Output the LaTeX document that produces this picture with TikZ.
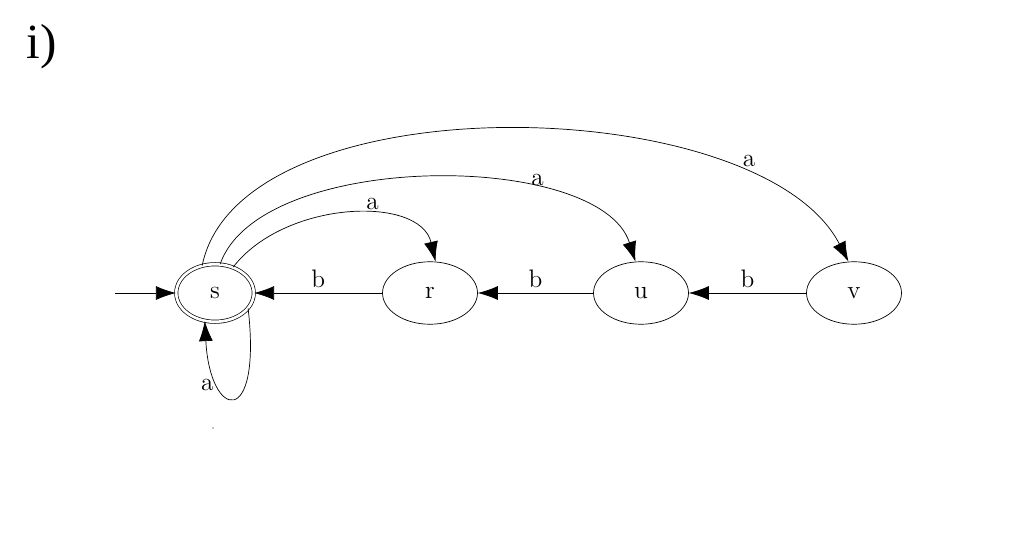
\documentclass[tikz,border=0pt]{standalone}
\usepackage{fontspec}
\newfontfamily\timesfont{Liberation Serif}
\usetikzlibrary{arrows.meta,shapes.geometric}
\tikzset{
  state/.style={ellipse,draw,minimum width=1.9cm,minimum height=1.25cm,font=\Large},
  accept/.style={state,double,double distance=1.5pt,minimum width=1.55cm,minimum height=1.15cm},
  edge/.style={draw,-{Latex[length=0.4cm,width=0.28cm]},thin},
  lbl/.style={font=\Large,inner sep=3pt}
}
\begin{document}
\begin{tikzpicture}[x=0.02cm,y=-0.02cm]
  \useasboundingbox (0,0) rectangle (1023,550);
  \node[font=\timesfont\fontsize{28}{30}\selectfont] (title) at (42,47) {i)};
  \node[accept] (s) at (215,293) {s};
  \node[state] (r) at (430,293) {r};
  \node[state] (u) at (641,293) {u};
  \node[state] (v) at (854,293) {v};
  \coordinate (start) at (115,293);
  \draw[edge] (start) -- (s);
  \draw[edge] (r) -- node[lbl,above] {b} (s);
  \draw[edge] (u) -- node[lbl,above] {b} (r);
  \draw[edge] (v) -- node[lbl,above] {b} (u);
  % arcs over the top
  \draw[edge] (s.55) .. controls (285,200) and (420,195) .. node[lbl,pos=.6,above] {a} (r.80);
  \draw[edge] (s.80) .. controls (260,150) and (600,150) .. node[lbl,pos=.7,above] {a} (u.100);
  \draw[edge] (s.115) .. controls (240,80) and (760,90) .. node[lbl,pos=.78,above right] {a} (v.100);
  % loop
  \draw[edge] (s.-25) .. controls (262,430) and (210,420) .. node[lbl,pos=.7,left] {a} (s.-110);
  \fill (213,428) circle (0.6);
\end{tikzpicture}
\end{document}
